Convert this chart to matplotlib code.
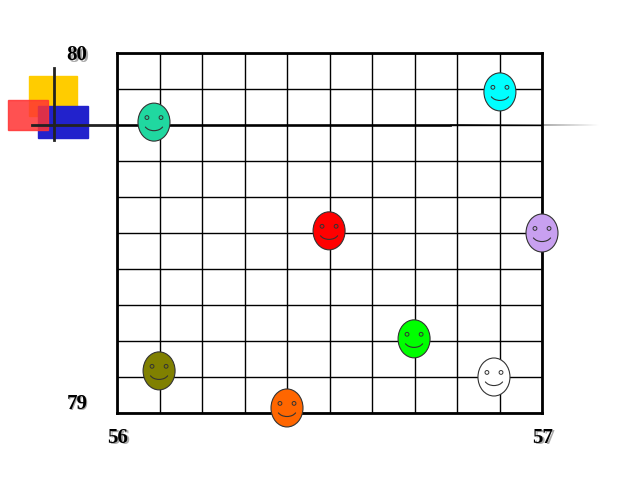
import matplotlib
matplotlib.use("Agg")
import matplotlib.pyplot as plt
import numpy as np
from matplotlib.patches import Ellipse, Arc, Rectangle
from matplotlib.lines import Line2D

xs = [56.087, 56.901, 56.499, 57.0, 56.699, 56.887, 56.099, 56.400]
ys = [79.808, 79.892, 79.506, 79.500, 79.206, 79.100, 79.117, 79.014]
colors = ['#20d8a0', '#00ffff', '#ff0000', '#c8a0f0', '#00ff00', '#ffffff', '#808000', '#ff6600']
xlabels = ['56', '57']
ylabels = ['79', '80']

fig = plt.figure(figsize=(6.38, 4.78), dpi=100)
W, H = 638, 478

def frect(x, y, w, h, c, a=1):
    fig.patches.append(Rectangle((x/W, 1-(y+h)/H), w/W, h/H, transform=fig.transFigure, color=c, alpha=a, zorder=-2))
frect(29, 76, 48, 40, '#ffcc00')
frect(38, 106, 50, 32, '#2222cc')
frect(8, 100, 40, 30, '#ff3333', 0.85)
fig.lines.append(Line2D([54/W, 54/W], [1-68/H, 1-140/H], transform=fig.transFigure, color='#222222', lw=2, zorder=-1))
fig.lines.append(Line2D([32/W, 450/W], [1-125/H, 1-125/H], transform=fig.transFigure, color='#222222', lw=2, zorder=-1))
gax = fig.add_axes([450/W, 1-126/H, 150/W, 2/H], zorder=-1)
g = np.zeros((1, 100, 4)); g[..., :3] = 0.13; g[0, :, 3] = np.linspace(1, 0, 100)
gax.imshow(g, aspect='auto', interpolation='bilinear')
gax.axis('off')

ax = fig.add_axes([117/W, 65/H, 425/W, 360/H])
ax.set_xlim(56, 57)
ax.set_ylim(79, 80)
ax.set_xticks(np.linspace(56, 57, 11))
ax.set_yticks(np.linspace(79, 80, 11))
ax.grid(True, color='black', lw=1)
ax.tick_params(length=0, labelbottom=False, labelleft=False)
for s in ax.spines.values():
    s.set_linewidth(2)
ax.set_facecolor('none')

ew, eh = 32/425, 38/360
for x, y, c in zip(xs, ys, colors):
    ax.add_patch(Ellipse((x, y), ew, eh, facecolor=c, edgecolor='#333333', lw=0.8, zorder=5, clip_on=False))
    for dx in (-0.22, 0.22):
        ax.add_patch(Ellipse((x + dx*ew, y + 0.12*eh), 0.12*ew, 0.1*eh, facecolor='none', edgecolor='#333333', lw=0.7, zorder=6, clip_on=False))
    ax.add_patch(Arc((x, y - 0.05*eh), 0.6*ew, 0.35*eh, theta1=200, theta2=340, color='#333333', lw=0.8, zorder=6, clip_on=False))

tkw = dict(fontsize=15, fontweight='bold', family='Liberation Serif', ha='center', va='center', transform=fig.transFigure)
def lab(x, y, t):
    fig.text((x+1.5)/W, 1-(y+1.5)/H, t, color='#aaaaaa', **tkw)
    fig.text(x/W, 1-y/H, t, color='black', **tkw)
lab(77, 55, ylabels[1])
lab(77, 404, ylabels[0])
lab(118, 438, xlabels[0])
lab(543, 438, xlabels[1])

fig.savefig('out.png', dpi=100)
